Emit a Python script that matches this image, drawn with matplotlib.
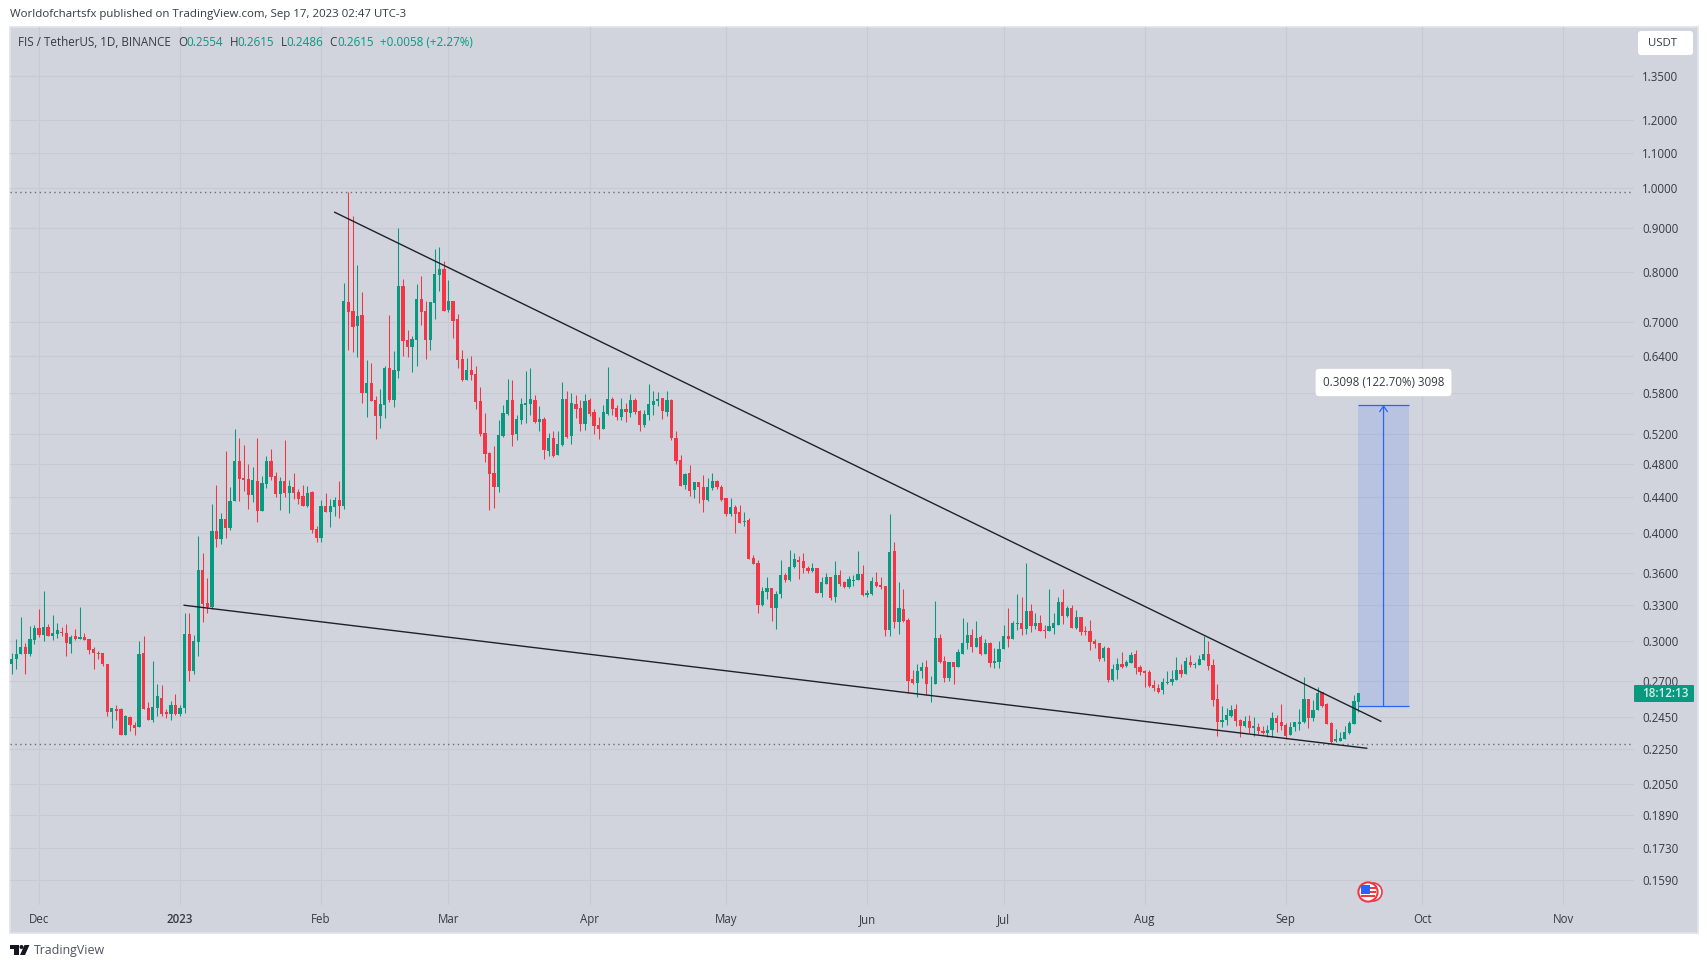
import matplotlib
matplotlib.use('Agg')
import matplotlib.pyplot as plt
import numpy as np
from matplotlib.patches import Rectangle, FancyBboxPatch, Circle, Polygon

plt.rcParams['font.family'] = ['Open Sans', 'DejaVu Sans']

#####################
# Daily candles, first one is Nov 25 2022, last one Sep 17 2023
#####################
opens = [
    .2819, .2857, .2895, .2957, .2895, .3005, .3105, .3045, .3113, .3037,
    .3061, .3077, .3069, .2973, .3037, .3013, .3029, .3013, .2941, .2910,
    .2903, .2819, .2487, .2501, .2501, .2334, .2454, .2397, .2390, .2903,
    .2508, .2435, .2514, .2582, .2487, .2474, .2534, .2474, .2508, .3061,
    .2774, .2989, .3622, .3321, .3289, .4021, .3936, .4152, .4053, .4355,
    .4843, .4629, .4617, .4425, .4593, .4240, .4557, .4843, .4653, .4436,
    .4593, .4448, .4520, .4460, .4413, .4297, .4460, .4042, .3947, .4297,
    .4229, .4286, .4367, .4299, .7398, .7219, .6941, .7141, .5807, .5960,
    .5701, .5460, .5624, .6207, .5701, .6156, .7716, .6685, .6557, .6685,
    .7457, .7219, .6685, .7378, .7945, .8076, .7239, .7418, .7068, .6357,
    .6006, .6173, .6106, .5685, .5222, .4950, .4694, .4522, .5180, .5488,
    .5701, .5208, .5404, .5624, .5639, .5701, .5376, .5418, .4975, .5152,
    .4924, .5054, .5716, .5180, .5639, .5579, .5348, .5701, .5516, .5334,
    .5278, .5488, .5716, .5579, .5446, .5563, .5502, .5701, .5533, .5334,
    .5474, .5624, .5685, .5731, .5516, .5701, .5152, .4857, .4548, .4697,
    .4487, .4585, .4524, .4371, .4511, .4598, .4524, .4393, .4212, .4280,
    .4224, .4122, .4144, .3745, .3696, .3298, .3420, .3458, .3272, .3402,
    .3572, .3525, .3658, .3724, .3714, .3648, .3610, .3639, .3411, .3496,
    .3553, .3376, .3572, .3506, .3468, .3516, .3525, .3582, .3394, .3402,
    .3506, .3487, .3477, .3092, .3817, .3156, .3264, .3177, .2709, .2687,
    .2767, .2803, .2673, .2673, .3021, .2847, .2716, .2840, .2803, .2902,
    .2981, .3053, .2957, .3029, .2902, .2981, .2832, .2840, .2934, .3037,
    .3013, .3142, .3152, .3094, .3247, .3127, .3152, .3086, .3078, .3108,
    .3135, .3326, .3204, .3273, .3108, .3195, .3078, .3078, .3004, .2981,
    .2871, .2949, .2707, .2780, .2826, .2810, .2833, .2902, .2803, .2773,
    .2765, .2671, .2649, .2635, .2685, .2693, .2707, .2780, .2750, .2841,
    .2818, .2818, .2856, .2902, .2818, .2573, .2419, .2432, .2458, .2505,
    .2432, .2393, .2425, .2380, .2387, .2361, .2349, .2368, .2445, .2419,
    .2400, .2336, .2387, .2406, .2419, .2573, .2445, .2498, .2621, .2538,
    .2412, .2299, .2299, .2311, .2349, .2406, .2554]
highs = [
    .2908, .3013, .3201, .2986, .3124, .3132, .3268, .3431, .3140, .3219,
    .3148, .3113, .3140, .3045, .3095, .3284, .3069, .3013, .2957, .2925,
    .2910, .2819, .2514, .2534, .2508, .2467, .2460, .2416, .2997, .3037,
    .2548, .2849, .2679, .2672, .2501, .2555, .2603, .2534, .3236, .3236,
    .3045, .3972, .3794, .3549, .4320, .4544, .4218, .4975, .4520, .5274,
    .5150, .5054, .4805, .4767, .5150, .4653, .4908, .5001, .4704, .4641,
    .5122, .4605, .4691, .4497, .4544, .4533, .4473, .4074, .4367, .4448,
    .4378, .4402, .4593, .7776, .9894, .9293, .8163, .7597, .6340, .6290,
    .5762, .5868, .6240, .7141, .6491, .9008, .7858, .6867, .6758, .7756,
    .7923, .7418, .7398, .8512, .8556, .8250, .7836, .7418, .7160, .6507,
    .6374, .6407, .6240, .5899, .5502, .4963, .5040, .5404, .5619, .6023,
    .6006, .5474, .5731, .6156, .6207, .5777, .5609, .5446, .5222, .5250,
    .5250, .5975, .5838, .5807, .5777, .5701, .5792, .5731, .5563, .5446,
    .5624, .6223, .5746, .5624, .5731, .5655, .5792, .5731, .5548, .5548,
    .5945, .5838, .5822, .5731, .5838, .5716, .5250, .4925, .4697, .4795,
    .4585, .4585, .4672, .4635, .4697, .4610, .4548, .4393, .4393, .4314,
    .4303, .4224, .4167, .3776, .3724, .3468, .3553, .3458, .3430, .3724,
    .3591, .3827, .3796, .3765, .3796, .3667, .3696, .3639, .3553, .3591,
    .3553, .3714, .3620, .3516, .3563, .3572, .3817, .3677, .3440, .3553,
    .3601, .3553, .3477, .4212, .3904, .3506, .3449, .3186, .2781, .2825,
    .2840, .2854, .2731, .3341, .3060, .2886, .2840, .2840, .2934, .3186,
    .3160, .3101, .3168, .3045, .3013, .2989, .2949, .2997, .3133, .3272,
    .3168, .3402, .3371, .3690, .3308, .3230, .3212, .3135, .3443, .3230,
    .3371, .3443, .3290, .3299, .3255, .3195, .3127, .3169, .3020, .2981,
    .2965, .2957, .2826, .2871, .2917, .2856, .2917, .2926, .2818, .2780,
    .2780, .2707, .2678, .2721, .2773, .2780, .2878, .2826, .2878, .2894,
    .2841, .2894, .3037, .3004, .2863, .2678, .2525, .2511, .2531, .2538,
    .2439, .2458, .2465, .2452, .2412, .2393, .2400, .2485, .2465, .2538,
    .2412, .2419, .2419, .2505, .2729, .2573, .2566, .2657, .2621, .2545,
    .2419, .2374, .2355, .2393, .2425, .2600, .2615]
lows = [
    .2752, .2789, .2895, .2752, .2887, .2973, .3029, .2997, .3037, .3005,
    .3021, .3037, .2887, .2910, .3005, .3013, .3005, .2895, .2789, .2864,
    .2811, .2460, .2378, .2435, .2334, .2334, .2365, .2340, .2390, .2501,
    .2435, .2422, .2460, .2460, .2448, .2435, .2467, .2460, .2481, .2701,
    .2745, .2887, .3160, .3236, .3264, .3853, .3883, .3947, .4032, .4355,
    .4355, .4473, .4263, .4344, .4118, .4240, .4508, .4605, .4402, .4251,
    .4402, .4218, .4378, .4320, .4297, .4286, .4000, .3904, .3904, .4229,
    .4063, .4185, .4163, .4264, .6507, .6474, .6390, .5655, .5446, .5685,
    .5138, .5292, .5432, .5670, .5594, .6040, .6407, .6390, .6140, .6240,
    .6959, .6357, .6507, .7068, .7617, .7219, .7199, .6721, .6207, .5991,
    .6006, .6006, .5563, .5180, .4835, .4252, .4275, .4463, .5166, .5474,
    .5040, .5124, .5348, .5362, .5474, .5362, .5250, .4873, .4911, .4899,
    .4924, .5040, .5152, .5068, .5432, .5250, .5264, .5460, .5208, .5138,
    .5278, .5474, .5474, .5404, .5404, .5376, .5446, .5488, .5250, .5306,
    .5404, .5474, .5609, .5418, .5460, .5124, .4810, .4536, .4499, .4416,
    .4393, .4337, .4224, .4359, .4487, .4499, .4359, .4179, .4179, .4003,
    .4111, .4077, .3734, .3686, .3237, .3290, .3359, .3168, .3101, .3368,
    .3506, .3516, .3639, .3534, .3591, .3591, .3601, .3411, .3376, .3496,
    .3342, .3333, .3477, .3458, .3458, .3477, .3525, .3385, .3376, .3394,
    .3468, .3449, .3044, .3044, .3108, .3060, .3156, .2614, .2673, .2588,
    .2723, .2601, .2550, .2673, .2832, .2694, .2701, .2680, .2803, .2902,
    .2941, .2918, .2957, .2894, .2902, .2803, .2796, .2796, .2934, .2957,
    .3013, .3092, .3045, .3061, .3070, .3094, .3078, .3028, .3078, .3061,
    .3135, .3143, .3195, .3108, .3100, .3045, .3045, .2926, .2949, .2848,
    .2848, .2693, .2700, .2714, .2795, .2803, .2833, .2750, .2743, .2657,
    .2657, .2628, .2614, .2607, .2678, .2671, .2707, .2729, .2750, .2803,
    .2795, .2818, .2856, .2780, .2525, .2330, .2387, .2400, .2452, .2393,
    .2324, .2387, .2349, .2330, .2343, .2343, .2324, .2324, .2355, .2368,
    .2311, .2336, .2361, .2368, .2412, .2380, .2425, .2498, .2518, .2406,
    .2281, .2293, .2299, .2311, .2343, .2406, .2486]
closes = [
    .2864, .2895, .2957, .2895, .3013, .3105, .3045, .3113, .3037, .3069,
    .3086, .3069, .2981, .3029, .3013, .3029, .3005, .2933, .2903, .2895,
    .2819, .2487, .2508, .2494, .2334, .2460, .2397, .2378, .2895, .2501,
    .2435, .2521, .2589, .2474, .2474, .2534, .2474, .2514, .3061, .2774,
    .2997, .3622, .3314, .3289, .4025, .3936, .4152, .4053, .4355, .4843,
    .4617, .4605, .4425, .4605, .4240, .4569, .4843, .4641, .4436, .4593,
    .4448, .4533, .4448, .4378, .4297, .4448, .4032, .3947, .4297, .4229,
    .4297, .4367, .4297, .7418, .7199, .6922, .7123, .5807, .5960, .5685,
    .5460, .5639, .6207, .5701, .6173, .7716, .6667, .6557, .6703, .7457,
    .7199, .6685, .7398, .7967, .8076, .7219, .7418, .7032, .6340, .6006,
    .6173, .6090, .5670, .5203, .4937, .4681, .4522, .5194, .5502, .5701,
    .5194, .5418, .5639, .5655, .5716, .5376, .5418, .4988, .5152, .4911,
    .5068, .5716, .5166, .5655, .5563, .5348, .5685, .5488, .5320, .5278,
    .5516, .5716, .5563, .5446, .5563, .5516, .5701, .5516, .5334, .5488,
    .5639, .5685, .5716, .5533, .5701, .5152, .4848, .4536, .4684, .4474,
    .4585, .4524, .4371, .4524, .4598, .4524, .4371, .4212, .4280, .4212,
    .4111, .4133, .3734, .3686, .3298, .3430, .3458, .3272, .3402, .3572,
    .3525, .3658, .3734, .3705, .3639, .3610, .3639, .3411, .3506, .3553,
    .3368, .3572, .3496, .3468, .3534, .3525, .3582, .3394, .3411, .3516,
    .3477, .3468, .3092, .3806, .3156, .3272, .3168, .2701, .2687, .2774,
    .2803, .2673, .2680, .3021, .2840, .2716, .2840, .2803, .2918, .2981,
    .3053, .2957, .3021, .2902, .2981, .2832, .2847, .2934, .3037, .3013,
    .3151, .3151, .3094, .3247, .3127, .3152, .3078, .3078, .3119, .3152,
    .3326, .3204, .3273, .3108, .3195, .3070, .3070, .2996, .2973, .2863,
    .2949, .2707, .2788, .2826, .2803, .2841, .2894, .2795, .2765, .2758,
    .2664, .2649, .2621, .2693, .2693, .2714, .2780, .2750, .2848, .2818,
    .2826, .2863, .2902, .2810, .2566, .2419, .2432, .2465, .2498, .2425,
    .2393, .2425, .2380, .2393, .2361, .2349, .2368, .2445, .2412, .2393,
    .2330, .2387, .2419, .2419, .2573, .2445, .2498, .2614, .2525, .2406,
    .2293, .2311, .2318, .2355, .2412, .2558, .2615]

# x values are days counted from Dec 1 2022
first_day = -6
month_days = [0, 31, 62, 90, 121, 151, 182, 212, 243, 274, 304, 335]
month_labels = ['Dec', '2023', 'Feb', 'Mar', 'Apr', 'May', 'Jun', 'Jul', 'Aug', 'Sep', 'Oct', 'Nov']

price_ticks = [1.35, 1.2, 1.1, 1.0, .9, .8, .7, .64, .58, .52, .48, .44, .40, .36, .33, .30,
               .27, .245, .225, .205, .189, .173, .159]

# drawings
level_high = .9897
level_low = .228
upper_line_days = [65, 294.9]
upper_line_prices = [.9384, .2424]
lower_line_days = [31.9, 291.8]
lower_line_prices = [.3300, .2256]
range_days = [290, 301]
range_prices = [.2523, .5621]
range_text = '0.3098 (122.70%) 3098'

GREEN = '#089981'
RED = '#f23645'
PANE = '#d1d4dc'
GRID = '#c7cad3'
TEXT = '#363a45'
BLUE = '#2962ff'

W, H = 1708, 968
fig = plt.figure(figsize=(W / 100, H / 100), dpi=100, facecolor='white')


def px_axes(x0, y0, x1, y1, **kw):
    return fig.add_axes([x0 / W, 1 - y1 / H, (x1 - x0) / W, (y1 - y0) / H], **kw)


# pane behind everything
bg = fig.add_axes([0, 0, 1, 1], zorder=0)
bg.set_xlim(0, W)
bg.set_ylim(H, 0)
bg.axis('off')
bg.add_patch(Rectangle((10, 27), 1688, 906, fc=PANE, ec='#e0e3eb', lw=1.2))

#####################
# Price pane
#####################
ax = px_axes(10, 27, 1634, 905, zorder=1)
ax.patch.set_alpha(0)
ax.set_yscale('log')
ax.set_xlim((10 - 39) / 4.55, (1634 - 39) / 4.55)
ax.set_ylim(.1487, 1.536)
for s in ax.spines.values():
    s.set_visible(False)

ax.set_yticks(price_ticks)
ax.set_yticklabels(['%.4f' % p for p in price_ticks])
ax.minorticks_off()
ax.yaxis.tick_right()
ax.set_xticks(month_days)
ax.set_xticklabels(month_labels)
ax.tick_params(axis='both', length=0, labelsize=8.3, labelcolor=TEXT)
ax.tick_params(axis='y', pad=5.8)
ax.tick_params(axis='x', pad=5.5)
ax.get_xticklabels()[1].set_fontweight('semibold')
ax.grid(True, color=GRID, lw=0.8)
ax.set_axisbelow(True)

days = first_day + np.arange(len(opens))
o = np.array(opens)
c = np.array(closes)
colors = [GREEN if b >= a else RED for a, b in zip(o, c)]
ax.vlines(days, lows, highs, colors=colors, lw=0.75, zorder=2)
ax.bar(days, np.abs(c - o), bottom=np.minimum(o, c), width=0.72, color=colors, lw=0, zorder=3)

ax.axhline(level_high, color='#6a6d78', lw=1, ls=(0, (1, 2.5)), zorder=2)
ax.axhline(level_low, color='#6a6d78', lw=1, ls=(0, (1, 2.5)), zorder=2)

ax.plot(upper_line_days, upper_line_prices, color='#1f2129', lw=1.0, zorder=4)
ax.plot(lower_line_days, lower_line_prices, color='#1f2129', lw=1.0, zorder=4)

# long position measure
ax.fill_between(range_days, range_prices[0], range_prices[1], color=BLUE, alpha=.15, lw=0, zorder=1.5)
ax.hlines(range_prices, range_days[0], range_days[1], color=BLUE, lw=0.9, zorder=4)
mid = sum(range_days) / 2
ax.annotate('', xy=(mid, range_prices[1]), xytext=(mid, range_prices[0]),
            arrowprops=dict(arrowstyle='->,head_length=.4,head_width=.28', color=BLUE, lw=0.9,
                            shrinkA=0, shrinkB=0), zorder=4)
ax.annotate(range_text, xy=(mid, range_prices[1]), xytext=(0, 11.5), textcoords='offset points',
            ha='center', va='bottom', fontsize=8.3, color=TEXT, zorder=5,
            bbox=dict(boxstyle='round,pad=.62,rounding_size=.3', fc='white', ec='none'))

#####################
# Texts and badges on top
#####################
ov = fig.add_axes([0, 0, 1, 1], zorder=2)
ov.set_xlim(0, W)
ov.set_ylim(H, 0)
ov.axis('off')

ov.text(10, 15, 'Worldofchartsfx published on TradingView.com, Sep 17, 2023 02:47 UTC-3',
        fontsize=8.27, color=TEXT, va='center')

legend_y = 42
legend_parts = [(18.3, 'FIS / TetherUS, 1D, BINANCE', TEXT), (178.3, 'O', TEXT), (186.7, '0.2554', GREEN),
                (229.7, 'H', TEXT), (237.3, '0.2615', GREEN), (281, 'L', TEXT), (286.7, '0.2486', GREEN),
                (329.3, 'C', TEXT), (337.3, '0.2615', GREEN), (380, '+0.0058 (+2.27%)', GREEN)]
for x, t, col in legend_parts:
    ov.text(x, legend_y, t, fontsize=8.35, color=col, va='center')

ov.add_patch(FancyBboxPatch((1640, 33), 51, 20, boxstyle='round,pad=2,rounding_size=3', fc='white', ec='none'))
ov.text(1648, 43, 'USDT', fontsize=8.2, color=TEXT, va='center')

ov.add_patch(FancyBboxPatch((1635, 686), 58, 15, boxstyle='round,pad=1,rounding_size=1', fc=GREEN, ec='none'))
ov.text(1665, 693.5, '18:12:13', fontsize=8.4, color='#d8f0ea', va='center', ha='center', fontweight='semibold')

# economic event flag
ov.add_patch(Circle((1373, 892), 9, fc='white', ec='#f23645', lw=1.2))
ov.add_patch(Circle((1368, 892), 9.6, fc='white', ec='#f23645', lw=1.5))
ov.add_patch(Rectangle((1361, 885), 9, 9, fc='#2962ff', ec='none'))
ov.add_patch(Rectangle((1370, 887), 6, 2, fc='#f23645', ec='none'))
ov.add_patch(Rectangle((1370, 891), 6, 2, fc='#f23645', ec='none'))
ov.add_patch(Rectangle((1361, 895), 14, 2, fc='#f23645', ec='none'))

# TradingView mark
ov.add_patch(Polygon([(10, 945), (19, 945), (19, 955), (14.5, 955), (14.5, 949), (10, 949)], fc='#131722', ec='none'))
ov.add_patch(Circle((21.5, 947), 2, fc='#131722', ec='none'))
ov.add_patch(Polygon([(24.5, 945), (29.5, 945), (25, 955), (20, 955)], fc='#131722', ec='none'))
ov.text(33.5, 950.5, 'TradingView', fontsize=8.9, color='#50535e', va='center')

fig.savefig('out.png', dpi=100, facecolor='white')
